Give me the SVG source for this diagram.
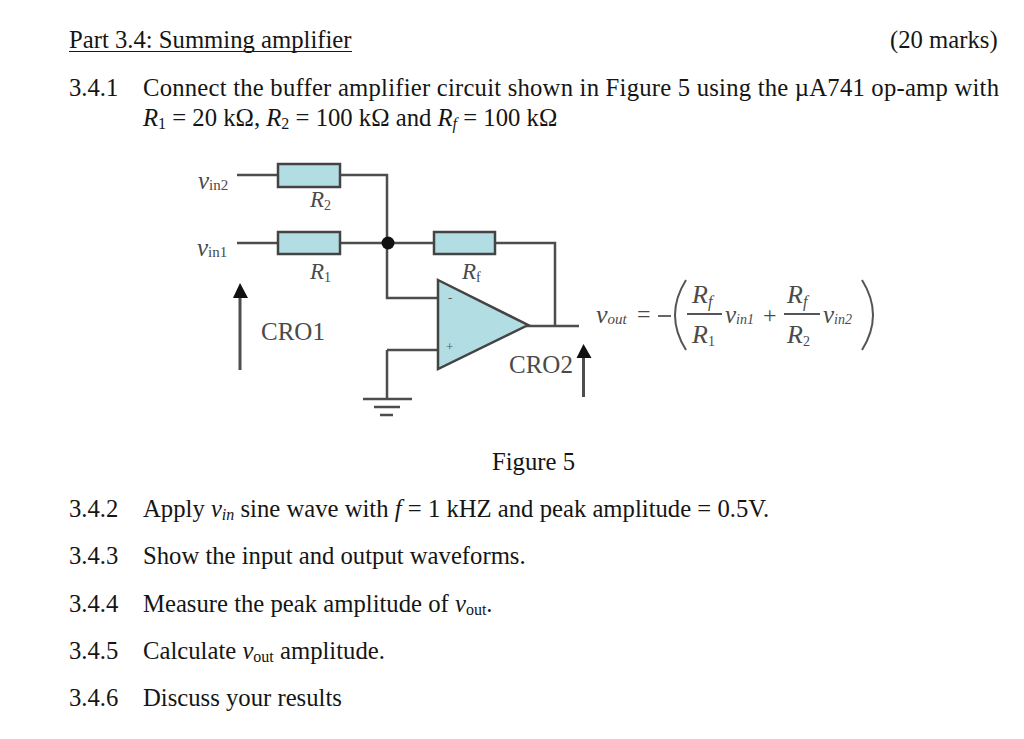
<svg xmlns="http://www.w3.org/2000/svg" width="1024" height="739" viewBox="0 0 1024 739">
<style>
text{font-family:"Liberation Serif","Times New Roman",serif;font-size:24.700px;fill:#151515}
.i{font-style:italic}
.s{font-size:16px}
.d text{fill:#4a4a4a;font-family:"Liberation Serif",serif}
.w{fill:none;stroke:#4d4d4d;stroke-width:2.500}
.r{fill:#b2dde3;stroke:#444;stroke-width:2.500}
</style>
<rect width="1024" height="739" fill="#fff"/>
<text x="69" y="48">Part 3.4: Summing amplifier</text><path d="M69 51.500H352" stroke="#1a1a1a" stroke-width="1.200"/>
<text x="890" y="48">(20 marks)</text>
<text x="69" y="95.500">3.4.1</text>
<text x="143" y="95.500" textLength="856" lengthAdjust="spacing">Connect the buffer amplifier circuit shown in Figure 5 using the µA741 op-amp with</text>
<text x="143" y="125.500"><tspan class="i">R</tspan><tspan class="s" dy="3">1</tspan><tspan dy="-3"> = 20 kΩ, </tspan><tspan class="i">R</tspan><tspan class="s" dy="3">2</tspan><tspan dy="-3"> = 100 kΩ and </tspan><tspan class="i">R</tspan><tspan class="s i" dy="3">f</tspan><tspan dy="-3"> = 100 kΩ</tspan></text>
<g id="connectors">
<path class="w" d="M237 175H278M340 175H387V298H438M237 243H278M340 243H434M495 243H555V326M387 350H438M387 350V399M526 326H579"/>
<path class="w" d="M363 399H412M374 407H400M380 415H393"/>
<path d="M240 370V295" stroke="#4d4d4d" stroke-width="3" fill="none"/><path d="M240 283L233 298H248Z" fill="#111"/>
<path d="M583.500 397V356" stroke="#4d4d4d" stroke-width="3" fill="none"/><path d="M583.500 344L576.500 358H591.500Z" fill="#111"/>
<circle cx="388" cy="243" r="6.500" fill="#111"/>
</g>
<g id="r2"><rect class="r" x="278" y="164" width="62" height="23"/></g>
<g id="r1"><rect class="r" x="278" y="232" width="62" height="22"/></g>
<g id="rf"><rect class="r" x="434" y="232" width="61" height="22"/></g>
<g id="opamp"><path class="r" d="M438 280L528 325L438 369Z"/><text x="448" y="302" style="font-size:13px;fill:#555">-</text><text x="446" y="351" style="font-size:13px;fill:#555">+</text></g>
<g id="labels" class="d">
<text x="198" y="189" class="i" style="font-size:25px">v<tspan font-style="normal" font-size="15" dy="1">in2</tspan></text>
<text x="197" y="256" class="i" style="font-size:25px">v<tspan font-style="normal" font-size="15" dy="1">in1</tspan></text>
<text x="310" y="207" class="i" style="font-size:23px">R<tspan font-size="14" font-style="normal" dy="3">2</tspan></text>
<text x="310" y="279" class="i" style="font-size:23px">R<tspan font-size="14" font-style="normal" dy="3">1</tspan></text>
<text x="462" y="279" class="i" style="font-size:23px">R<tspan font-size="14" font-style="normal" dy="3">f</tspan></text>
<text x="261" y="340" style="font-size:25px">CRO1</text>
<text x="509" y="373" style="font-size:25px">CRO2</text>
</g>
<g id="equation" class="d">
<text x="596" y="323" class="i" style="font-size:26px">v<tspan font-size="15" dy="1">out</tspan></text>
<text x="637" y="322" style="font-size:24px">=</text>
<path d="M658 316H671" stroke="#555" stroke-width="1.800"/>
<path d="M686 280Q664 315 686 350M862 280Q884 315 862 350" fill="none" stroke="#555" stroke-width="2"/>
<path d="M687 314H722M784 314H820" stroke="#555" stroke-width="2"/>
<text x="692" y="303" class="i" style="font-size:26px">R<tspan font-size="16" dy="4">f</tspan></text>
<text x="692" y="343" class="i" style="font-size:26px">R<tspan font-size="14" font-style="normal" dy="3">1</tspan></text>
<text x="787" y="303" class="i" style="font-size:26px">R<tspan font-size="16" dy="4">f</tspan></text>
<text x="787" y="343" class="i" style="font-size:26px">R<tspan font-size="14" font-style="normal" dy="3">2</tspan></text>
<text x="725" y="323" class="i" style="font-size:25px">v<tspan font-size="14" dy="1">in1</tspan></text>
<text x="763" y="323" style="font-size:24px">+</text>
<text x="823" y="323" class="i" style="font-size:25px">v<tspan font-size="14" dy="1">in2</tspan></text>
</g>
<text x="492" y="470">Figure 5</text>
<text x="69" y="517">3.4.2</text><text x="143" y="517">Apply <tspan class="i">v</tspan><tspan class="s i" dy="3">in</tspan><tspan dy="-3"> sine wave with </tspan><tspan class="i">f</tspan> = 1 kHZ and peak amplitude = 0.5V.</text>
<text x="69" y="564">3.4.3</text><text x="143" y="564">Show the input and output waveforms.</text>
<text x="69" y="611.500">3.4.4</text><text x="143" y="611.500">Measure the peak amplitude of <tspan class="i">v</tspan><tspan class="s" dy="3">out</tspan><tspan dy="-3">.</tspan></text>
<text x="69" y="658.500">3.4.5</text><text x="143" y="658.500">Calculate <tspan class="i">v</tspan><tspan class="s" dy="3">out</tspan><tspan dy="-3"> amplitude.</tspan></text>
<text x="69" y="705.500">3.4.6</text><text x="143" y="705.500">Discuss your results</text>
</svg>
